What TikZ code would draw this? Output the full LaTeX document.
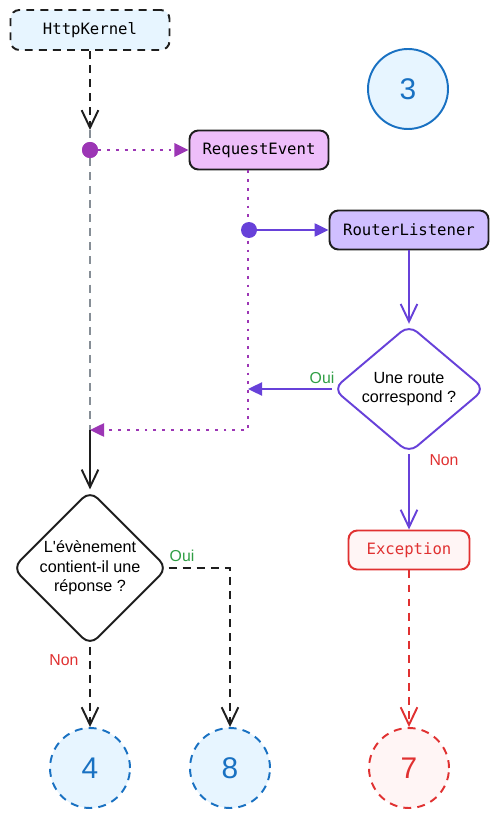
\documentclass[tikz,border=0pt]{standalone}
\usepackage{fontspec}
\setmainfont{Liberation Sans}
\setmonofont{DejaVu Sans Mono}
\usetikzlibrary{arrows.meta,shapes.geometric}
\definecolor{exblue}{HTML}{1971C2}
\definecolor{exbluefill}{HTML}{E7F5FF}
\definecolor{expurple}{HTML}{9C36B5}
\definecolor{expink}{HTML}{EEBEFA}
\definecolor{exlav}{HTML}{D0BFFF}
\definecolor{exindigo}{HTML}{6741D9}
\definecolor{exred}{HTML}{E03131}
\definecolor{exredfill}{HTML}{FFF5F5}
\definecolor{exgreen}{HTML}{2F9E44}
\definecolor{exgray}{HTML}{868E96}
\definecolor{exdark}{HTML}{1E1E1E}
\tikzset{
  openhead/.tip={Straight Barb[length=10pt,width=9.5pt,line width=1.1pt]},
  fillhead/.tip={Triangle[length=8pt,width=7.5pt]},
  mono/.style={font=\ttfamily\fontsize{8.9}{10}\selectfont},
  boxstyle/.style={rectangle, rounded corners=5pt, draw=exdark, line width=1.1pt, mono, inner sep=2pt},
  dashline/.style={line width=1.1pt, dash pattern=on 4.5pt off 3.5pt},
  dotline/.style={line width=1.2pt, dash pattern=on 1.6pt off 3.4pt},
  decision/.style={diamond, draw, line width=1.1pt, fill=white, rounded corners=6pt, inner sep=0pt, align=center, font=\fontsize{9.2}{11.2}\selectfont},
  numcircle/.style={circle, minimum size=1.6cm, inner sep=0pt, line width=1.1pt, font=\fontsize{17}{20}\selectfont},
  lbl/.style={font=\fontsize{9}{11}\selectfont},
  joint/.style={circle, inner sep=0pt, minimum size=0.32cm},
}
\begin{document}
\begin{tikzpicture}[x=0.02cm,y=-0.02cm]
\useasboundingbox (0,0) rectangle (500,820);

% nodes
\node[boxstyle, dashline, fill=exbluefill, minimum width=3.18cm, minimum height=0.8cm] (hk) at (90,30) {HttpKernel};
\node[numcircle, draw=exblue, fill=exbluefill, text=exblue] (c3) at (408,89) {3};
\node[joint, fill=expurple] (d1) at (90,150) {};
\node[boxstyle, fill=expink, minimum width=2.78cm, minimum height=0.78cm] (re) at (259,150) {RequestEvent};
\node[boxstyle, fill=exlav, minimum width=3.18cm, minimum height=0.78cm] (rl) at (409,230) {RouterListener};
\node[decision, draw=exindigo, minimum width=3.04cm, minimum height=2.26cm] (d2) at (409,389) {Une route\\correspond ?};
\node[boxstyle, draw=exred, text=exred, fill=exredfill, minimum width=2.42cm, minimum height=0.78cm] (ex) at (409,550) {Exception};
\node[decision, draw=exdark, minimum width=3.02cm, minimum height=3.0cm] (d3) at (90,568) {L\textquotesingle év\`enement\\contient-il une\\r\'eponse ?};
\node[numcircle, dashline, draw=exblue, fill=exbluefill, text=exblue] (c4) at (90,768) {4};
\node[numcircle, dashline, draw=exblue, fill=exbluefill, text=exblue] (c8) at (230,768) {8};
\node[numcircle, dashline, draw=exred, fill=exredfill, text=exred] (c7) at (409,768) {7};

\coordinate (a1) at (90,130);
\coordinate (m) at (90,430);
\coordinate (r1) at (248,430);

% connectors
\draw[exgray, dashline] (a1) -- (m);
\node[joint, fill=expurple] at (d1) {};
\draw[exdark, dashline, -{openhead}] (hk) -- (a1);
\draw[expurple, dotline, -{fillhead}] (d1) -- (re);
\draw[expurple, dotline, -{fillhead}] (re.south -| r1) -- (r1) -- (m);
\node[joint, fill=exindigo] (d4) at (249,230) {};
\draw[exindigo, line width=1.1pt, -{fillhead}] (d4) -- (rl);
\draw[exindigo, line width=1.1pt, -{openhead}] (rl) -- (d2);
\draw[exindigo, line width=1.1pt, -{fillhead}] (d2.west) -- (d2.west -| r1);
\draw[exindigo, line width=1.1pt, -{openhead}] (d2) -- (ex);
\draw[exred, dashline, -{openhead}] (ex) -- (c7);
\draw[exdark, line width=1.1pt, -{openhead}] (m) -- (d3);
\draw[exdark, dashline, -{openhead}] (d3.east) -| (c8);
\draw[exdark, dashline, -{openhead}] (d3) -- (c4);

% labels
\node[lbl, text=exgreen] (l1) at (322,378) {Oui};
\node[lbl, text=exred] (l2) at (444,460) {Non};
\node[lbl, text=exgreen] (l3) at (182,556) {Oui};
\node[lbl, text=exred] (l4) at (64,660) {Non};
\end{tikzpicture}
\end{document}
